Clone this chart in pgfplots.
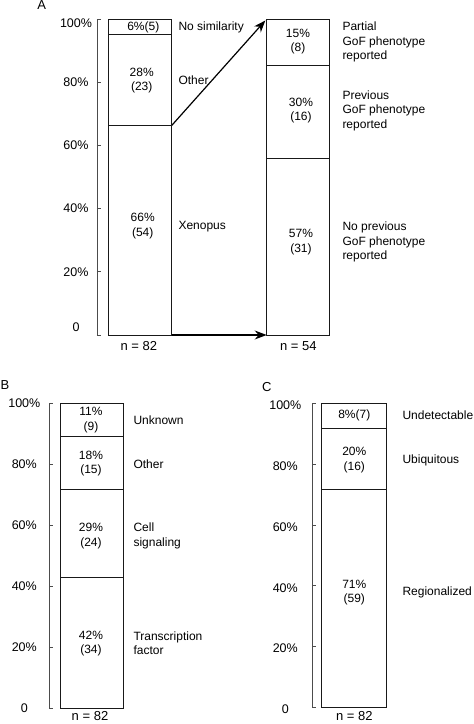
\documentclass[border=0pt]{standalone}
\usepackage{fontspec}
\setmainfont{Liberation Sans}
\usepackage{pgfplots}
\pgfplotsset{compat=1.18}
\usetikzlibrary{arrows.meta}

\pgfplotsset{
  panel/.style={
    scale only axis, clip=false,
    axis x line=none, axis y line=left,
    axis line style={-, black!70, line width=0.8pt},
    ymin=0, ymax=100, ytick={0,20,40,60,80,100},
    tick align=inside, major tick length=4pt,
    tick style={black!70, line width=0.8pt},
    yticklabels={0,20\%,40\%,60\%,80\%,100\%},
    yticklabel style={anchor=center, font=\fontsize{12.5}{14}\selectfont},
    ybar stacked,
  },
  seg/.style={fill=white, draw=black!90, line width=0.8pt},
}

\begin{document}
\begin{tikzpicture}[x=1pt, y=1pt,
  lab/.style={font=\fontsize{12}{14.5}\selectfont, inner sep=0pt},
  mid/.style={lab, align=center, anchor=center},
  side/.style={lab, align=left, anchor=west}]
\path[use as bounding box] (0,0) rectangle (474,724);

% panel A
\begin{axis}[panel, at={(97pt,389pt)}, anchor=south west,
  xmin=97, xmax=474, width=377pt, height=316pt, bar width=63pt,
  yticklabels={\raisebox{8pt}[\height][\depth]{0},20\%,40\%,60\%,80\%,\raisebox{-4.5pt}[\height][\depth]{100\%}},
  yticklabel style={xshift=-21pt}]
\addplot[seg] coordinates {(140.2,66.3) (298.3,56.0)};
\addplot[seg] coordinates {(140.2,28.8) (298.3,29.2)};
\addplot[seg] coordinates {(140.2,4.9) (298.3,14.8)};
\draw[-{Stealth[length=12pt,width=9pt]}, line width=1.2pt, shorten >=2pt]
  (axis cs:171.7,66.3) -- (axis cs:266.7,100);
\draw[-{Stealth[length=12pt,width=9pt]}, line width=1.2pt]
  (axis cs:171.7,0) -- (axis cs:266.7,0);
\end{axis}

% panel B
\begin{axis}[panel, at={(49.3pt,16pt)}, anchor=south west,
  xmin=49.3, xmax=250, width=200.7pt, height=304.7pt, bar width=63.3pt,
  yticklabel style={xshift=-25pt}]
\addplot[seg] coordinates {(91.7,43.0)};
\addplot[seg] coordinates {(91.7,28.6)};
\addplot[seg] coordinates {(91.7,17.4)};
\addplot[seg] coordinates {(91.7,11.0)};
\end{axis}

% panel C
\begin{axis}[panel, at={(312.3pt,16.7pt)}, anchor=south west,
  xmin=312.3, xmax=474, width=161.7pt, height=304pt, bar width=64.3pt,
  yticklabel style={xshift=-27pt, yshift=-2pt}]
\addplot[seg] coordinates {(353.8,71.6)};
\addplot[seg] coordinates {(353.8,20.2)};
\addplot[seg] coordinates {(353.8,8.2)};
\end{axis}

\begin{scope}[y=-1pt, yshift=724pt]
% panel A labels
\node[lab, font=\fontsize{13}{14}\selectfont] at (41.7,5.5) {A};
\node[mid] at (143.3,27.3) {6\%(5)};
\node[mid] at (141.7,80.5) {28\%\\(23)};
\node[mid] at (142.7,226) {66\%\\(54)};
\node[side] at (178.3,27.3) {No similarity};
\node[side] at (178.3,80) {Other};
\node[side] at (178.3,226.7) {Xenopus};
\node[mid] at (298,41.7) {15\%\\(8)};
\node[mid] at (301,110.5) {30\%\\(16)};
\node[mid] at (301,242) {57\%\\(31)};
\node[side] at (342.3,42) {Partial\\GoF phenotype\\reported};
\node[side] at (342.3,110.5) {Previous\\GoF phenotype\\reported};
\node[side] at (342.3,242.3) {No previous\\GoF phenotype\\reported};
\node[mid, font=\fontsize{13}{14}\selectfont] at (138.8,345.7) {n = 82};
\node[mid, font=\fontsize{13}{14}\selectfont] at (298.3,345.7) {n = 54};
% panel B labels
\node[lab, font=\fontsize{13}{14}\selectfont] at (5,385) {B};
\node[mid] at (91,420) {11\%\\(9)};
\node[mid] at (91,463.5) {18\%\\(15)};
\node[mid] at (91,536) {29\%\\(24)};
\node[mid] at (91,643.7) {42\%\\(34)};
\node[side] at (133.3,420) {Unknown};
\node[side] at (133.3,464) {Other};
\node[side] at (133.3,536) {Cell\\signaling};
\node[side] at (133.3,643.3) {Transcription\\factor};
\node[mid, font=\fontsize{13}{14}\selectfont] at (90,716.5) {n = 82};
% panel C labels
\node[lab, font=\fontsize{13}{14}\selectfont] at (266.7,386.7) {C};
\node[mid] at (354.3,415.7) {8\%(7)};
\node[mid] at (354.3,460) {20\%\\(16)};
\node[mid] at (354.3,592.5) {71\%\\(59)};
\node[side] at (402.3,415.7) {Undetectable};
\node[side] at (402.3,460) {Ubiquitous};
\node[side] at (402.3,592.3) {Regionalized};
\node[mid, font=\fontsize{13}{14}\selectfont] at (354.3,716.5) {n = 82};
\end{scope}
\end{tikzpicture}
\end{document}
